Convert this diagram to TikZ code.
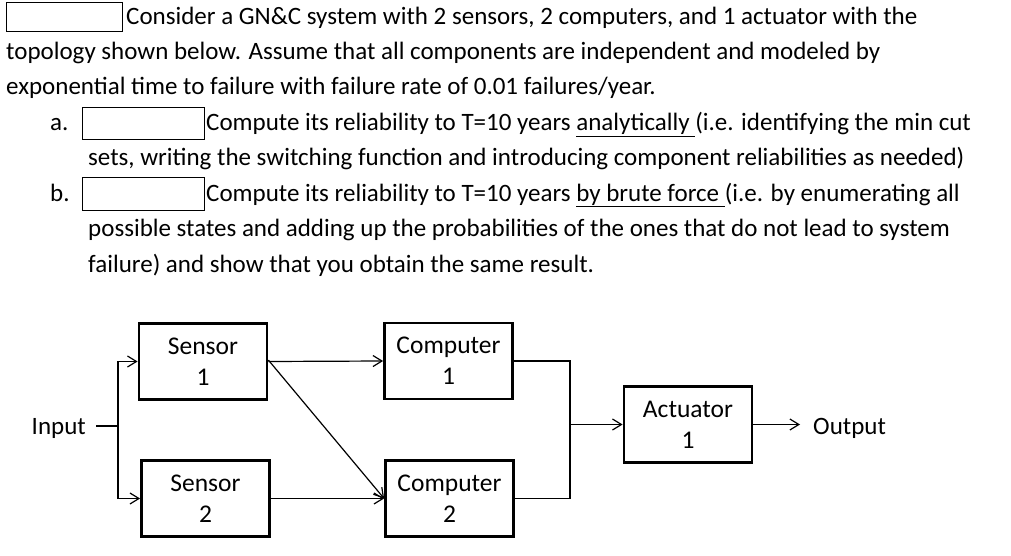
\documentclass[tikz,border=0pt]{standalone}
\usepackage{fontspec}
\setmainfont{Carlito}
\usetikzlibrary{arrows.meta}
\begin{document}
\begin{tikzpicture}[x=1pt,y=-1pt,
  txt/.style={anchor=base west,inner sep=0pt,font=\fontsize{25}{30}\selectfont},
  blank/.style={draw,line width=1pt},
  blk/.style={draw,line width=2.8pt,minimum width=128pt,minimum height=76pt,align=center,font=\fontsize{25.5}{31}\selectfont,inner sep=0pt},
  ln/.style={line width=1.2pt},
  arr/.style={ln,-{Straight Barb[length=9pt,width=11pt]}}]
\useasboundingbox (0,0) rectangle (1011,556);
\node[blank,minimum width=116pt,minimum height=29pt,inner sep=0pt] (b0) at (64,17.5) {};
\node[blank,minimum width=122pt,minimum height=32pt,inner sep=0pt] (ba) at (143,124) {};
\node[blank,minimum width=122pt,minimum height=32pt,inner sep=0pt] (bb) at (143,194) {};
\node[txt] (l1) at (126,25) {Consider a GN\&C system with 2 sensors, 2 computers, and 1 actuator with the};
\node[txt] (l2) at (6,60) {topology shown below. Assume that all components are independent and modeled by};
\node[txt] (l3) at (6,95) {exponential time to failure with failure rate of 0.01 failures/year.};
\node[txt] (la) at (50,131) {a.};
\node[txt] (l4) at (206,131) {Compute its reliability to T=10 years \underline{analytically\ }(i.e. identifying the min cut};
\node[txt] (l5) at (88,166) {sets, writing the switching function and introducing component reliabilities as needed)};
\node[txt] (lb) at (50,201) {b.};
\node[txt] (l6) at (206,201) {Compute its reliability to T=10 years \underline{by brute force\ }(i.e. by enumerating all};
\node[txt] (l7) at (88,236) {possible states and adding up the probabilities of the ones that do not lead to system};
\node[txt] (l8) at (88,272) {failure) and show that you obtain the same result.};

\node[blk] (s1) at (203,361.5) {Sensor\\1};
\node[blk] (s2) at (205.5,498.5) {Sensor\\2};
\node[blk] (c1) at (448.5,361) {Computer\\1};
\node[blk] (c2) at (449.5,498.5) {Computer\\2};
\node[blk] (a1) at (688,424.5) {Actuator\\1};
\node[txt,anchor=base east] (in) at (86,434) {Input};
\node[txt,anchor=base west] (out) at (813,434) {Output};
\coordinate (j) at (118,426);
\coordinate (k) at (570,424.5);
\draw[ln] (96,426) -- (j);
\draw[arr] (j) |- (s1.west);
\draw[arr] (j) |- (s2.west);
\draw[arr] (s1.east) -- (c1.west);
\draw[arr] (s1.north east)++(0,38) -- (c2.west);
\draw[arr] (s2.east) -- (c2.west);
\draw[ln] (c1.east) -| (k);
\draw[ln] (c2.east) -| (k);
\draw[arr] (k) -- (a1.west);
\draw[arr] (a1.east) -- (800,424.5);
\end{tikzpicture}
\end{document}
